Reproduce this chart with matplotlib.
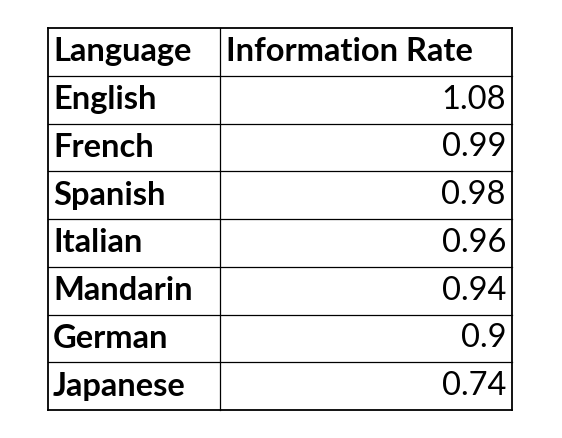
import matplotlib
matplotlib.use("Agg")
import matplotlib.pyplot as plt

headers = ["Language", "Information Rate"]
languages = ["English", "French", "Spanish", "Italian", "Mandarin", "German", "Japanese"]
rates = ["1.08", "0.99", "0.98", "0.96", "0.94", "0.9", "0.74"]

W, H = 562, 438
fig = plt.figure(figsize=(W/100, H/100), dpi=100)
ax = fig.add_axes([0, 0, 1, 1])
ax.set_xlim(0, W); ax.set_ylim(H, 0); ax.axis("off")

left, mid, right = 48, 220, 512
top, bottom = 28, 410
nrows = len(languages) + 1
rh = (bottom - top) / nrows
fam = ["Lato", "DejaVu Sans"]
fs = 23.5

for i in range(nrows + 1):
    y = top + i * rh
    ax.plot([left, right], [y, y], color="black", lw=1.3 if i in (0, nrows) else 0.9)
for x in (left, mid, right):
    ax.plot([x, x], [top, bottom], color="black", lw=1.3 if x != mid else 0.9)

yc = top + rh / 2
ax.text(left + 5, yc, headers[0], fontsize=fs, fontweight="bold", family=fam, va="center", ha="left")
ax.text(mid + 6, yc, headers[1], fontsize=fs, fontweight="bold", family=fam, va="center", ha="left")
for i, (lang, r) in enumerate(zip(languages, rates)):
    yc = top + (i + 1.5) * rh
    ax.text(left + 5, yc, lang, fontsize=fs, fontweight="bold", family=fam, va="center", ha="left")
    ax.text(right - 6, yc, r, fontsize=fs, family=fam, va="center", ha="right")

fig.savefig("out.png", dpi=100)
